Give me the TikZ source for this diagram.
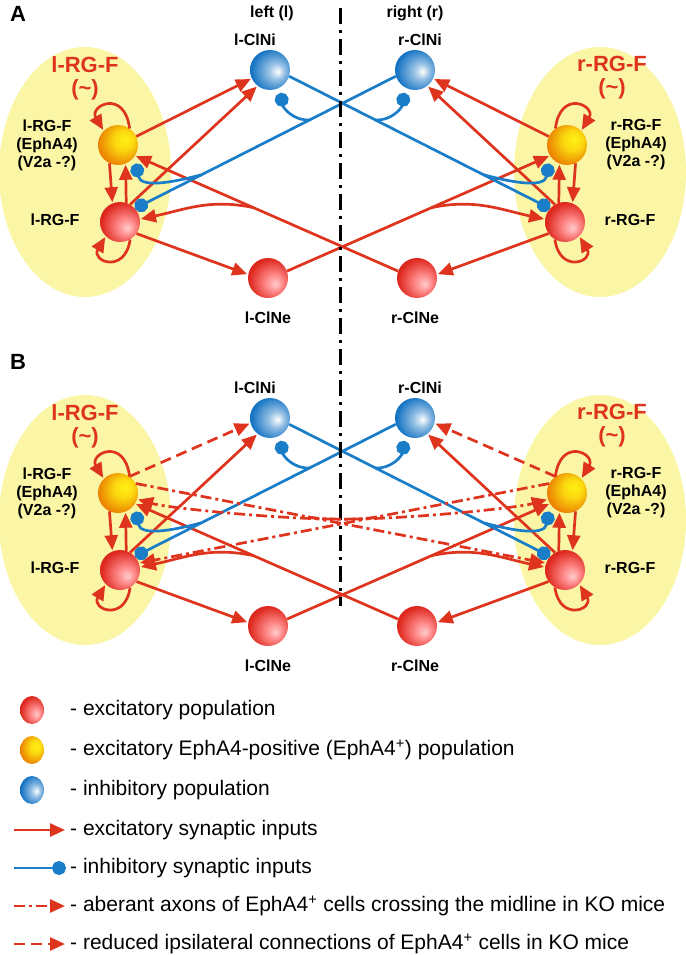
\documentclass[tikz,border=0pt]{standalone}
\usepackage{fontspec}
\setmainfont{Liberation Sans}
\usetikzlibrary{arrows.meta,calc,shapes.geometric}
\definecolor{ered}{RGB}{222,52,30}
\definecolor{iblue}{RGB}{25,125,200}
\definecolor{ellc}{RGB}{250,246,165}
\definecolor{ballred}{RGB}{222,40,30}
\definecolor{ballor}{RGB}{235,125,0}
\definecolor{ballyel}{RGB}{255,240,20}
\definecolor{ballblue}{RGB}{20,115,195}
\pgfdeclareradialshading{redball}{\pgfpoint{10bp}{-8bp}}{color(0bp)=(white!80!red); color(10bp)=(red!45!white); color(28bp)=(ballred); color(50bp)=(ballred!85!black)}
\pgfdeclareradialshading{orball}{\pgfpoint{10bp}{8bp}}{color(0bp)=(ballyel); color(12bp)=(ballyel!80!ballor); color(30bp)=(ballor); color(50bp)=(ballor!85!black)}
\pgfdeclareradialshading{blball}{\pgfpoint{10bp}{-2bp}}{color(0bp)=(white); color(10bp)=(ballblue!45!white); color(28bp)=(ballblue); color(50bp)=(ballblue!85!black)}
\tikzset{
 ball/.style={circle,minimum size=40pt,inner sep=0pt},
 rb/.style={ball,shading=redball},
 ob/.style={ball,shading=orball},
 bb/.style={ball,shading=blball},
 lball/.style={ellipse,minimum width=24pt,minimum height=28pt,inner sep=0pt},
 exc/.style={draw=ered,line width=2.7pt,-{Triangle[length=15pt,width=13pt]},shorten >=1pt},
 inh/.style={draw=iblue,line width=2.7pt,-{Circle[length=14pt]}},
 dsh/.style={exc,dash pattern=on 11pt off 6pt},
 dd/.style={exc,dash pattern=on 11pt off 4pt on 3pt off 4pt},
 lab/.style={font=\bfseries\fontsize{16}{18}\selectfont,align=center,inner sep=0pt},
 hdr/.style={font=\bfseries\fontsize{22}{23}\selectfont,text=ered,align=center,inner sep=0pt},
 leg/.style={anchor=west,font=\fontsize{21}{23}\selectfont,inner sep=0pt},
}
\newcommand\mypanel[2]{%
\begin{scope}[yshift=#2pt]
\fill[ellc] (85,-172) ellipse [x radius=86,y radius=125];
\fill[ellc] (600,-172) ellipse [x radius=86,y radius=125];
\node[ob] (#1lE) at (118,-145) {};
\node[rb] (#1lF) at (120,-222) {};
\node[bb] (#1lCi) at (270,-70) {};
\node[rb] (#1lCe) at (268,-278) {};
\node[ob] (#1rE) at (567,-145) {};
\node[rb] (#1rF) at (565,-222) {};
\node[bb] (#1rCi) at (415,-70) {};
\node[rb] (#1rCe) at (417,-278) {};
\node[lab] (#1tlCi) at (255,-40) {l-ClNi};
\node[lab] (#1trCi) at (420,-40) {r-ClNi};
\node[lab] (#1tlCe) at (268,-318) {l-ClNe};
\node[lab] (#1trCe) at (415,-318) {r-ClNe};
\node[hdr] (#1hl) at (85,-78) {l-RG-F\\(\textasciitilde)};
\node[hdr] (#1hr) at (612,-78) {r-RG-F\\(\textasciitilde)};
\node[lab] (#1tlE) at (47,-145) {l-RG-F\\(EphA4)\\(V2a -?)};
\node[lab] (#1trE) at (636,-145) {r-RG-F\\(EphA4)\\(V2a -?)};
\node[lab] (#1tlF) at (55,-220) {l-RG-F};
\node[lab] (#1trF) at (630,-220) {r-RG-F};
% local loops and vertical
\draw[exc] (#1lE.245) -- (#1lF.112);
\draw[exc] (#1lF.72) -- (#1lE.292);
\draw[exc] (#1rE.295) -- (#1rF.68);
\draw[exc] (#1rF.108) -- (#1rE.248);
\draw[exc] (#1lE.55) .. controls +(-5,40) and +(-15,25) .. (#1lE.135);
\draw[exc] (#1rE.125) .. controls +(5,40) and +(15,25) .. (#1rE.45);
\draw[exc] (#1lF.300) .. controls +(-5,-35) and +(-15,-25) .. (#1lF.225);
\draw[exc] (#1rF.240) .. controls +(5,-35) and +(15,-25) .. (#1rF.315);
% to CINi
\draw[exc] (#1lF.60) -- (#1lCi.232);
\draw[exc] (#1rF.120) -- (#1rCi.308);
% to CINe
\draw[exc] (#1lF.-35) -- (#1lCe.170);
\draw[exc] (#1rF.215) -- (#1rCe.10);
% crossing excitatory
\draw[exc] (#1lCe.20) -- coordinate[pos=0.55] (#1bR) (#1rE.212);
\draw[exc] (#1rCe.160) -- coordinate[pos=0.55] (#1bL) (#1lE.-32);
\draw[exc] (#1bL) to[out=168,in=12] (#1lF.8);
\draw[exc] (#1bR) to[out=12,in=168] (#1rF.172);
% inhibitory
\draw[inh] (#1lCi.-18) -- coordinate[pos=0.33] (#1iR1) coordinate[pos=0.745] (#1iR2) (#1rF.138);
\draw[inh] (#1rCi.198) -- coordinate[pos=0.33] (#1iL1) coordinate[pos=0.745] (#1iL2) (#1lF.42);
\draw[inh] (#1iL1) to[out=185,in=-80] ($(#1lCi.-62)+(1,-5)$);
\draw[inh] (#1iR1) to[out=-5,in=-100] ($(#1rCi.-118)+(-1,-5)$);
\draw[inh] (#1iL2) to[out=195,in=-80] ($(#1lE.-42)+(3,-5)$);
\draw[inh] (#1iR2) to[out=-15,in=-100] ($(#1rE.-138)+(-3,-5)$);
\end{scope}}
\begin{document}
\begin{tikzpicture}[x=1pt,y=1pt]
\useasboundingbox (0,0) rectangle (685,-955);
\mypanel{A}{0}
\mypanel{B}{-348}
\draw[black,line width=3pt,dash pattern=on 16pt off 6pt on 3pt off 6pt] (340,-8) coordinate (m1) -- (340,-606) coordinate (m2);
\node[font=\bfseries\fontsize{22}{24}\selectfont,inner sep=0pt] (tA) at (18,-14) {A};
\node[font=\bfseries\fontsize{22}{24}\selectfont,inner sep=0pt] (tB) at (18,-362) {B};
\node[lab] (tl) at (272,-13) {left (l)};
\node[lab] (tr) at (415,-13) {right (r)};
% panel A specific
\draw[exc] (AlE.25) -- (AlCi.205);
\draw[exc] (ArE.155) -- (ArCi.335);
% panel B specific
\draw[dsh] (BlE.55) -- (BlCi.195);
\draw[dsh] (BrE.125) -- (BrCi.345);
\draw[dd] (BlE.28) -- coordinate[pos=0.42] (BdR) (BrF.160);
\draw[dd] (BrE.152) -- coordinate[pos=0.42] (BdL) (BlF.20);
\draw[dd] (BdL) .. controls +(-40,-8) and +(35,-10) .. (BlE.-18);
\draw[dd] (BdR) .. controls +(40,-8) and +(-35,-10) .. (BrE.198);
% legend
\node[lball,shading=redball] (L1) at (32,-710) {};
\node[lball,shading=orball] (L2) at (32,-750) {};
\node[lball,shading=blball] (L3) at (32,-790) {};
\coordinate (a4) at (14,-830); \coordinate (b4) at (66,-830);
\coordinate (a5) at (14,-868); \coordinate (b5) at (66,-868);
\coordinate (a6) at (14,-906); \coordinate (b6) at (66,-906);
\coordinate (a7) at (14,-944); \coordinate (b7) at (66,-944);
\draw[exc] (a4) -- (b4);
\draw[inh] (a5) -- (b5);
\draw[dd] (a6) -- (b6);
\draw[dsh] (a7) -- (b7);
\node[leg] (t1) at (70,-710) {- excitatory population};
\node[leg] (t2) at (70,-750) {- excitatory EphA4-positive (EphA4\textsuperscript{+}) population};
\node[leg] (t3) at (70,-790) {- inhibitory population};
\node[leg] (t4) at (70,-830) {- excitatory synaptic inputs};
\node[leg] (t5) at (70,-868) {- inhibitory synaptic inputs};
\node[leg] (t6) at (70,-906) {- aberant axons of EphA4\textsuperscript{+} cells crossing the midline in KO mice};
\node[leg] (t7) at (70,-944) {- reduced ipsilateral connections of EphA4\textsuperscript{+} cells in KO mice};
\end{tikzpicture}
\end{document}
